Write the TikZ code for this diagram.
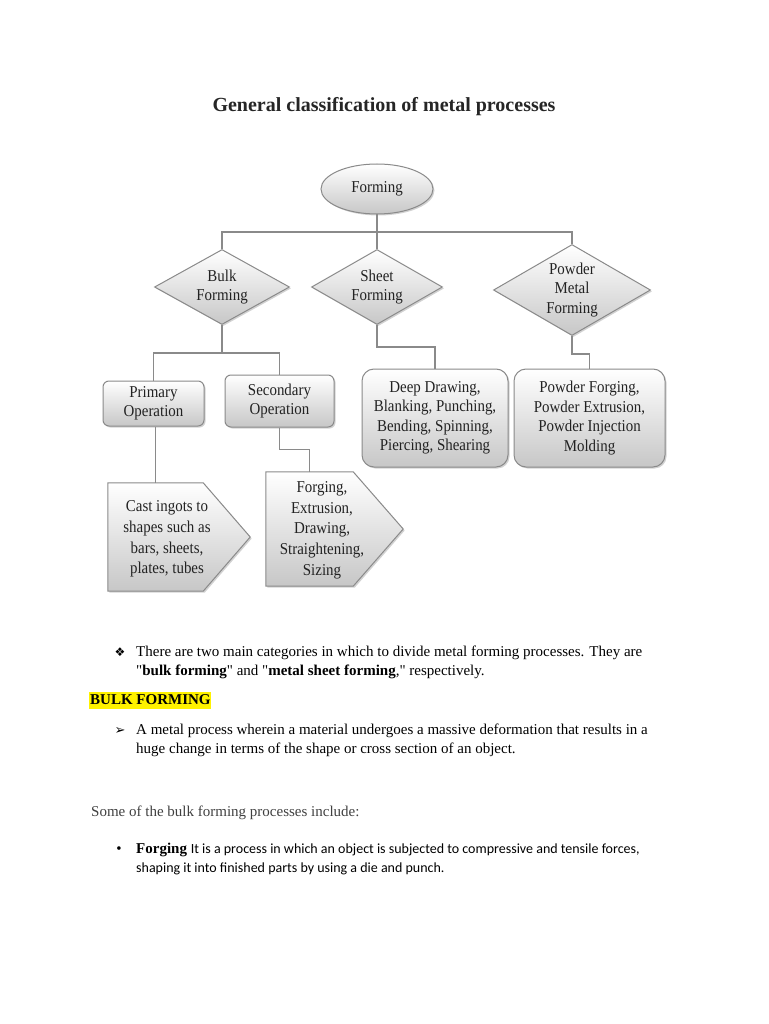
\documentclass[tikz,border=0pt]{standalone}
\usepackage{fontspec}
\setmainfont{Liberation Serif}
\newfontfamily\diagfont[FakeStretch=0.9]{Liberation Serif}
\newfontfamily\symfont{DejaVu Sans}
\newfontfamily\calfont{Carlito}
\usetikzlibrary{shapes.geometric,shadows,calc}
\definecolor{lineg}{HTML}{8A8A8A}
\definecolor{txt}{HTML}{222222}
\tikzset{
  dfont/.style={font=\diagfont\fontsize{16.6}{19.5}\selectfont},
  box/.style={draw=lineg, line width=1pt, top color=white, bottom color=black!22, drop shadow={opacity=0.35, shadow xshift=1.5pt, shadow yshift=-1.5pt}, inner sep=0pt, text=txt, dfont, align=center},
  dlabel/.style={text=txt, dfont, align=center},
  conn/.style={draw=lineg, line width=1.1pt},
  body/.style={anchor=base west, inner sep=0pt, text=black, font=\fontsize{15}{19}\selectfont},
}
\begin{document}
\begin{tikzpicture}[x=1pt,y=-1pt]
\fill[white] (0,0) rectangle (768,1024);
\useasboundingbox (0,0) rectangle (768,1024);

% title
\node[anchor=base, inner sep=0pt, font=\fontsize{20}{24}\selectfont\bfseries, text=black!85] (title) at (384,112) {General classification of metal processes};

% level 0
\node[box, ellipse, minimum width=112pt, minimum height=50pt] (forming) at (377,189) {Forming};

% level 1 diamonds
\node[box, diamond, minimum width=135pt, minimum height=75pt, label={[dlabel]center:Bulk\\Forming}] (bulk) at (222,287) {};
\node[box, diamond, minimum width=131pt, minimum height=75pt, label={[dlabel]center:Sheet\\Forming}] (sheet) at (377,287) {};
\node[box, diamond, minimum width=157pt, minimum height=91pt, label={[dlabel]center:Powder\\Metal\\Forming}] (powder) at (572,290) {};

% level 2 boxes
\node[box, rounded corners=6pt, minimum width=101pt, minimum height=45pt] (primary) at (153.5,403.5) {Primary\\Operation};
\node[box, rounded corners=6pt, minimum width=109pt, minimum height=52pt] (secondary) at (279.5,401) {Secondary\\Operation};
\node[box, rounded corners=12pt, minimum width=146pt, minimum height=98pt] (sheetbox) at (435,418) {Deep Drawing,\\Blanking, Punching,\\Bending, Spinning,\\Piercing, Shearing};
\node[box, rounded corners=12pt, minimum width=151pt, minimum height=98pt] (powderbox) at (589.5,418) {Powder Forging,\\Powder Extrusion,\\Powder Injection\\Molding};

% pentagons (rectangular part as named nodes)
\node[minimum width=95pt, minimum height=108pt, inner sep=0pt] (p1) at (155.5,537) {};
\node[minimum width=87pt, minimum height=114pt, inner sep=0pt] (p2) at (309.5,529) {};
\path[box] (p1.north west) -- (p1.north east) -- ($(p1.east)+(47,0)$) -- (p1.south east) -- (p1.south west) -- cycle;
\path[box] (p2.north west) -- (p2.north east) -- ($(p2.east)+(50,0)$) -- (p2.south east) -- (p2.south west) -- cycle;
\node[dlabel, font=\diagfont\fontsize{16.6}{20.7}\selectfont, inner sep=0pt] (p1t) at (167,539) {Cast ingots to\\shapes such as\\bars, sheets,\\plates, tubes};
\node[dlabel, font=\diagfont\fontsize{16.6}{20.7}\selectfont, inner sep=0pt] (p2t) at (322,530) {Forging,\\Extrusion,\\Drawing,\\Straightening,\\Sizing};

% connectors
\coordinate (bar1) at (0,232);
\coordinate (bar2) at (0,353);
\draw[conn] (bulk.north) -- (bulk.north |- bar1) -- (powder.north |- bar1) -- (powder.north);
\draw[conn] (forming.south) -- (sheet.north);
\draw[conn] (bulk.south) -- (bulk.south |- bar2);
\draw[conn] (primary.north) -- (primary.north |- bar2) -- (secondary.north |- bar2) -- (secondary.north);
\draw[conn] (p1.north |- primary.south) -- (p1.north);
\draw[conn] (secondary.south) -- ++(0,22) -| (p2.north);
\draw[conn] (sheet.south) -- ++(0,22) -| (sheetbox.north);
\draw[conn] (powder.south) -- ++(0,18) -| (powderbox.north);

% body text
\node[anchor=base, inner sep=0pt, font=\symfont\fontsize{12}{14}\selectfont] (b1) at (120,656) {❖};
\node[body] (t1) at (136,656) {There are two main categories in which to divide metal forming processes. They are};
\node[body] (t2) at (136,675) {\textquotedbl\textbf{bulk forming}\textquotedbl\ and \textquotedbl\textbf{metal sheet forming},\textquotedbl\ respectively.};

\fill[yellow] (89,692) rectangle (211,708.5);
\node[body, font=\fontsize{15}{19}\selectfont\bfseries] (h1) at (90,704) {BULK FORMING};

\node[anchor=base, inner sep=0pt, font=\symfont\fontsize{13}{14}\selectfont] (b2) at (120,734) {➢};
\node[body] (t3) at (136,734) {A metal process wherein a material undergoes a massive deformation that results in a};
\node[body] (t4) at (136,753) {huge change in terms of the shape or cross section of an object.};

\node[body, text=black!75] (t5) at (91,816) {Some of the bulk forming processes include:};

\node[anchor=base, inner sep=0pt, font=\fontsize{15}{19}\selectfont] (b3) at (119,853) {•};
\node[body] (t6) at (136,853) {\textbf{Forging} {\calfont\fontsize{14}{18}\selectfont It is a process in which an object is subjected to compressive and tensile forces,}};
\node[body, font=\calfont\fontsize{14}{18}\selectfont] (t7) at (136,872) {shaping it into finished parts by using a die and punch.};
\end{tikzpicture}
\end{document}
